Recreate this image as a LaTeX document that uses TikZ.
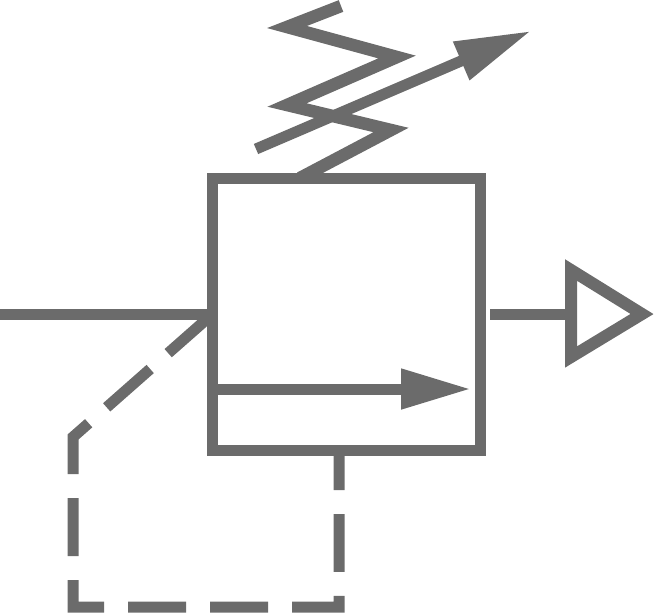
\documentclass[tikz,border=0pt]{standalone}
\usetikzlibrary{positioning,arrows.meta}
\definecolor{symbolgray}{HTML}{6B6B6B}
\tikzset{
  pipe/.style={draw=symbolgray,line width=.22cm},
  pilot/.style={pipe,dash pattern=on 1.16cm off .48cm,dash phase=.40cm},
  spring/.style={pipe,line width=.25cm},
  valvebox/.style={pipe,minimum width=5.38cm,minimum height=5.46cm,outer sep=0pt}
}
\begin{document}
\begin{tikzpicture}[x=.02cm,y=-.02cm,line join=miter]
\useasboundingbox (0,0) rectangle (655,613);
\node at(346.5,314.5)[valvebox](valve){};
\coordinate (inlet) at (0,314.5);
\coordinate (outlet) at (490,314);
\coordinate (portback) at (571,314);
\coordinate (porttop) at (571,270);
\coordinate (porttip) at (642,314);
\coordinate (portbottom) at (571,357);
\coordinate (bartip) at (471,389);
\coordinate (tap) at (339,452);
\coordinate (knee) at (73,607);
\coordinate (kneeright) at (339,607);
\coordinate (elbow) at (73,437);
\coordinate (adjstart) at (256,149);
\coordinate (adjtip) at (531,31);
\draw[pipe] (inlet) -- (valve.west);
\draw[pipe] (outlet) -- (portback);
\draw[pipe,line width=.24cm] (porttop) -- (porttip) -- (portbottom) -- cycle;
\draw[pipe,-{Triangle[length=1.40cm,width=.76cm]}] (valve.west |- bartip) -- (bartip);
\draw[pilot] (tap) -- (kneeright) -- (knee) -- (elbow) -- (valve.west);
\draw[spring] (341,6) -- (287,27) -- (397,57) -- (287,105) -- (391,130) -- (300,178);
\draw[pipe,-{Triangle[length=1.52cm,width=.78cm]}] (adjstart) -- (adjtip);
\end{tikzpicture}
\end{document}
